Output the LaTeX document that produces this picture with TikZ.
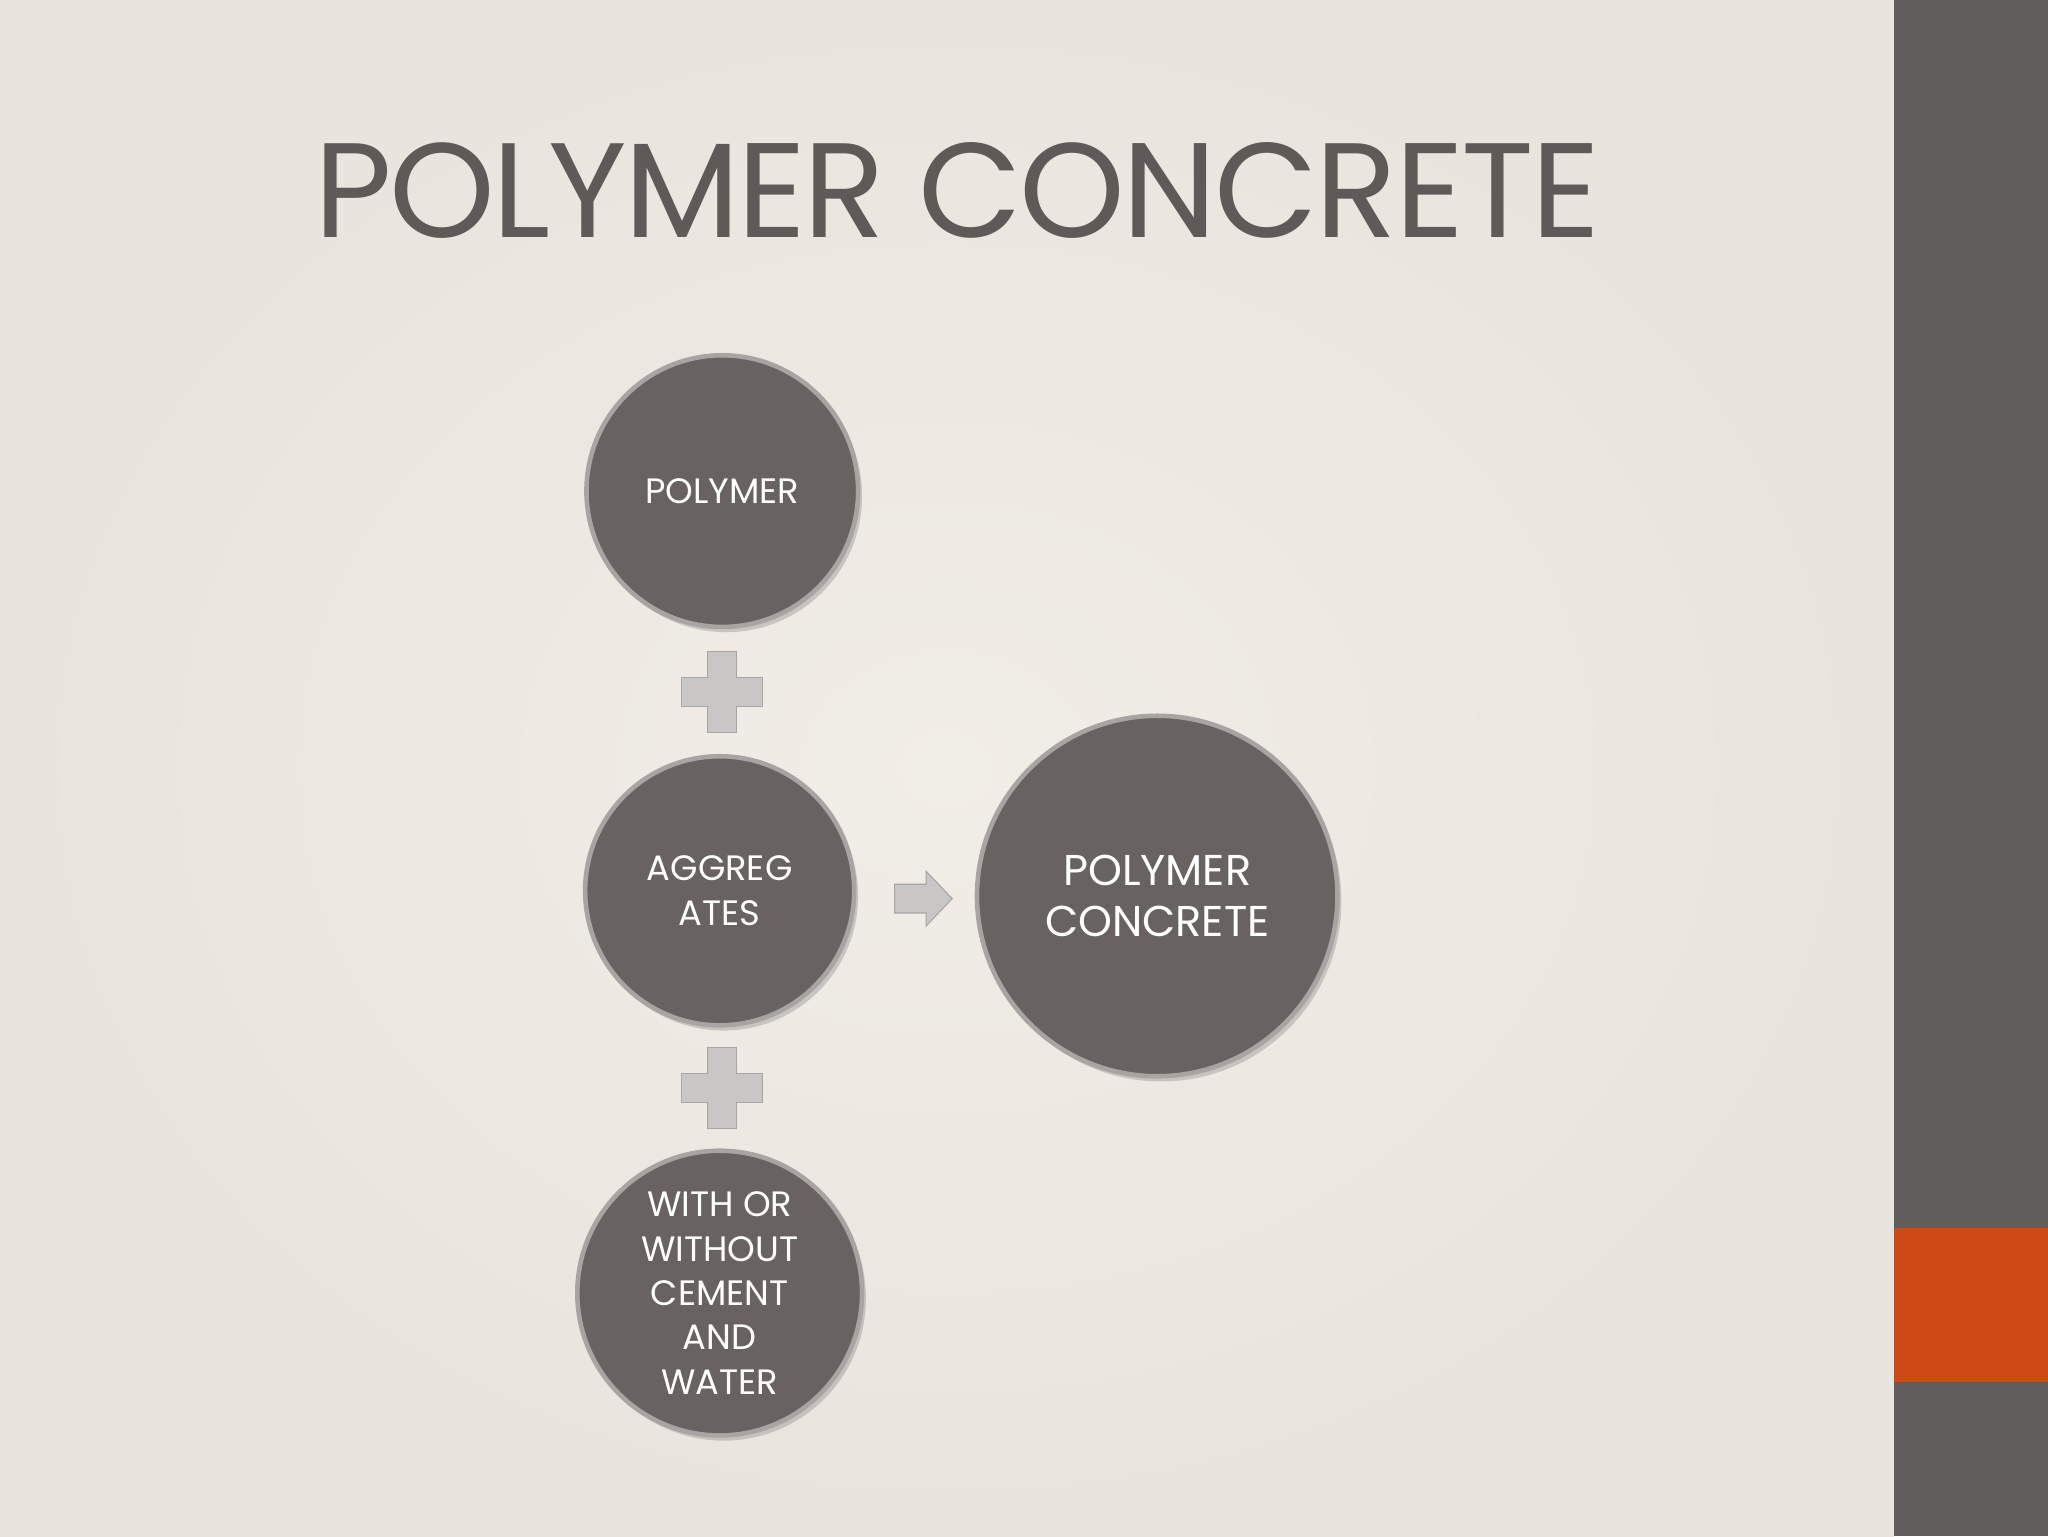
\documentclass[tikz,border=0pt]{standalone}
\usepackage{fontspec}
\setmainfont{Poppins}
\usetikzlibrary{shadows}
\definecolor{bg}{HTML}{E9E4DD}
\definecolor{bgc}{HTML}{F1EDE7}
\definecolor{bar}{HTML}{625D5D}
\definecolor{orng}{HTML}{D04A18}
\definecolor{ttl}{HTML}{5F5A58}
\definecolor{circ}{HTML}{686361}
\definecolor{rim}{HTML}{A8A4A1}
\definecolor{plusc}{HTML}{C9C7C5}
\tikzset{x=1pt,y=-1pt,
 ball/.style={circle,fill=circ,draw=rim,line width=3.5pt,text=white,align=center,inner sep=0pt,
   drop shadow={shadow xshift=3pt,shadow yshift=-4pt,opacity=0.35}},
 plusshape/.style={fill=plusc,draw=gray!70,line width=0.8pt}}
\begin{document}
\begin{tikzpicture}
\useasboundingbox (0,0) rectangle (1568,1176);
\shade[inner color=bgc,outer color=bg] (0,0) rectangle (1450,1176);
\fill[bar] (1450,0) rectangle (1568,1176);
\fill[orng] (1450,940) rectangle (1568,1058);
\node[text=ttl,font=\fontsize{103}{108}\selectfont\addfontfeature{LetterSpace=-2}] (title) at (733,146) {POLYMER CONCRETE};
\node[ball,minimum size=208pt,font=\fontsize{27}{33}\selectfont] (p) at (553,376) {POLYMER};
\node[ball,minimum size=206pt,font=\fontsize{27}{34}\selectfont] (a) at (551,682) {AGGREG\\ATES};
\node[ball,minimum size=218pt,font=\fontsize{27}{34}\selectfont] (w) at (551,990) {WITH OR\\WITHOUT\\CEMENT\\AND\\WATER};
\node[ball,minimum size=276pt,font=\fontsize{33}{39}\selectfont] (pc) at (886,686) {POLYMER\\CONCRETE};
\foreach \n/\cy in {pl1/530,pl2/833}{
 \coordinate (\n) at (553,\cy);
 \fill[plusshape] ([shift={(-11,-31)}]\n) -- ++(22,0) -- ++(0,20) -- ++(20,0) -- ++(0,22) -- ++(-20,0) -- ++(0,20) -- ++(-22,0) -- ++(0,-20) -- ++(-20,0) -- ++(0,-22) -- ++(20,0) -- cycle;
}
\coordinate (ar) at (707,688);
\fill[plusshape] ([shift={(-22,-11)}]ar) -- ++(24,0) -- ++(0,-10) -- ++(20,21) -- ++(-20,21) -- ++(0,-10) -- ++(-24,0) -- cycle;
\end{tikzpicture}
\end{document}
